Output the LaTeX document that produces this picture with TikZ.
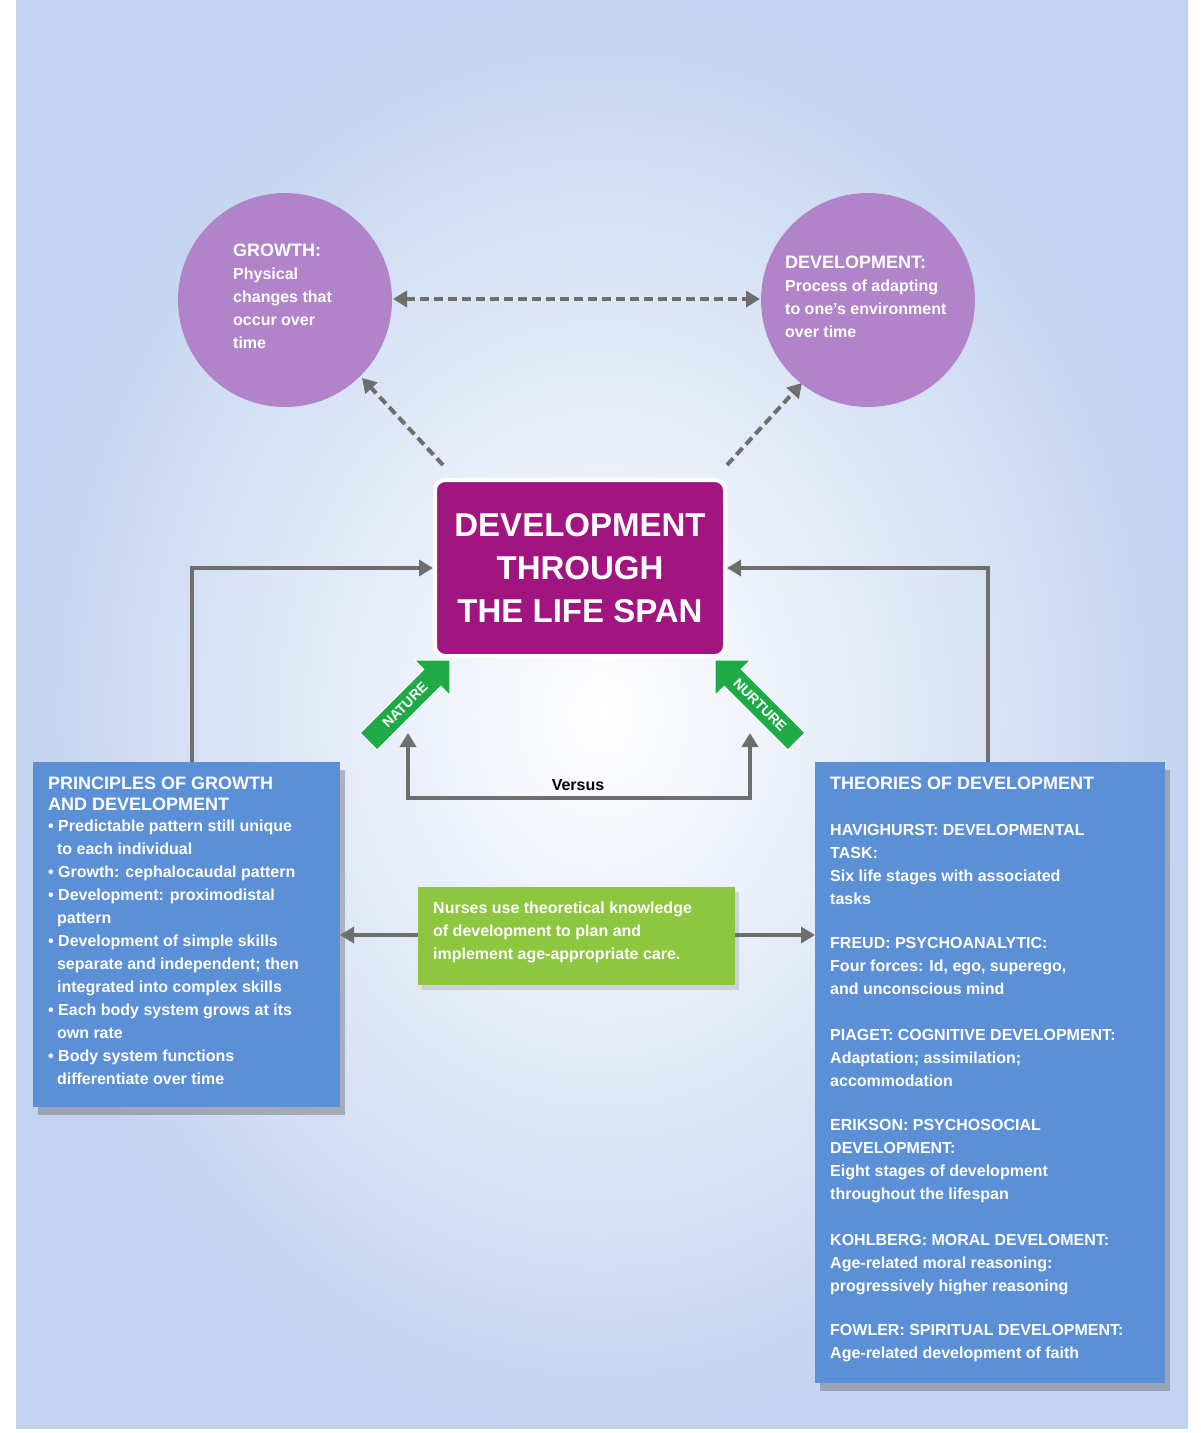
\documentclass[tikz,border=0pt]{standalone}
\usepackage{fontspec}
\setmainfont{Liberation Sans}
\usetikzlibrary{arrows.meta,shapes.arrows,shadows}
\definecolor{bgb}{RGB}{196,212,240}
\definecolor{circ}{RGB}{177,131,201}
\definecolor{mag}{RGB}{160,21,128}
\definecolor{blu}{RGB}{91,143,214}
\definecolor{grn}{RGB}{141,198,63}
\definecolor{darkg}{RGB}{30,170,70}
\definecolor{gry}{RGB}{110,110,110}
\newcommand{\hd}{\fontsize{18}{23}\selectfont}
\begin{document}
\begin{tikzpicture}[x=1pt,y=-1pt,
 txt/.style={text=white,align=left,anchor=north west,inner sep=0pt,font=\bfseries\fontsize{16}{23}\selectfont},
 conn/.style={draw=gry,line width=4pt,-{Triangle[length=14pt,width=16pt]}},
 dconn/.style={conn,dash pattern=on 9pt off 5pt},
 box/.style={fill=blu,draw=none,drop shadow={shadow xshift=5pt,shadow yshift=-8pt,opacity=0.35,fill=black!70}},
 garrow/.style={single arrow,fill=darkg,draw=white,line width=1pt,minimum height=115pt,minimum width=50pt,single arrow head extend=8pt,inner sep=2pt,text=white,font=\bfseries\fontsize{14}{14}\selectfont}]
\useasboundingbox (0,0) rectangle (1200,1433);
\fill[white] (0,0) rectangle (1200,1433);
\shade[inner color=white,outer color=bgb] (16,0) rectangle (1188,1428);
% circles
\fill[circ] (285,300) circle (107);
\fill[circ] (868,300) circle (107);
\node[txt] (g) at (233,244) {\hd GROWTH:\\Physical\\changes that\\occur over\\time};
\node[txt] (d) at (785,256) {\hd DEVELOPMENT:\\Process of adapting\\to one's environment\\over time};
\coordinate (gr) at (393,299); \coordinate (dl) at (760,299);
\draw[dconn,{Triangle[length=14pt,width=16pt]}-{Triangle[length=14pt,width=16pt]}] (gr) -- (dl);
\coordinate (c1) at (443,465); \coordinate (g1) at (362,378);
\coordinate (c2) at (727,465); \coordinate (d1) at (802,383);
\draw[dconn] (c1) -- (g1);
\draw[dconn] (c2) -- (d1);
% center
\node[fill=mag,draw=white,line width=4pt,rounded corners=10pt,minimum width=290pt,minimum height=176pt,text=white,align=center,font=\bfseries\fontsize{33}{43}\selectfont] (c) at (580,568) {DEVELOPMENT\\THROUGH\\THE LIFE SPAN};
% blue boxes
\fill[box] (33,762) rectangle (340,1107);
\fill[box] (815,762) rectangle (1165,1383);
\node[txt] (l) at (48,777) {\hd PRINCIPLES OF GROWTH\\[-2pt]\hd AND DEVELOPMENT\\[-2pt]
• Predictable pattern still unique\\\ \ to each individual\\• Growth: cephalocaudal pattern\\• Development: proximodistal\\\ \ pattern\\• Development of simple skills\\\ \ separate and independent; then\\\ \ integrated into complex skills\\• Each body system grows at its\\\ \ own rate\\• Body system functions\\\ \ differentiate over time};
\node[txt] (r) at (830,777) {\hd THEORIES OF DEVELOPMENT\\[23pt]
HAVIGHURST: DEVELOPMENTAL\\TASK:\\Six life stages with associated\\tasks\\[21pt]
FREUD: PSYCHOANALYTIC:\\Four forces: Id, ego, superego,\\and unconscious mind\\[23pt]
PIAGET: COGNITIVE DEVELOPMENT:\\Adaptation; assimilation;\\accommodation\\[21pt]
ERIKSON: PSYCHOSOCIAL\\DEVELOPMENT:\\Eight stages of development\\throughout the lifespan\\[23pt]
KOHLBERG: MORAL DEVELOMENT:\\Age-related moral reasoning:\\progressively higher reasoning\\[21pt]
FOWLER: SPIRITUAL DEVELOPMENT:\\Age-related development of faith};
% green box
\fill[grn,drop shadow={shadow xshift=4pt,shadow yshift=-5pt,opacity=0.25}] (418,887) rectangle (735,985);
\node[txt] (n) at (433,902) {Nurses use theoretical knowledge\\of development to plan and\\implement age-appropriate care.};
\coordinate (nl) at (418,935); \coordinate (nr) at (735,935);
\coordinate (ll) at (340,935); \coordinate (rr) at (815,935);
\draw[conn] (nl) -- (ll);
\draw[conn] (nr) -- (rr);
% side connectors
\coordinate (ls) at (192,762); \coordinate (rs) at (988,762);
\draw[conn] (ls) |- (c.west);
\draw[conn] (rs) |- (c.east);
% versus
\coordinate (v1) at (408,733); \coordinate (v2) at (750,733);
\draw[conn,{Triangle[length=14pt,width=16pt]}-{Triangle[length=14pt,width=16pt]}] (v1) -- (408,798) -- (750,798) -- (v2);
\node[font=\bfseries\fontsize{16}{16}\selectfont] (vs) at (578,785) {Versus};
% green arrows
\node[garrow,rotate=45] (na) at (405,705) {NATURE};
\node[garrow,rotate=135] (nu) at (760,705) {\rotatebox{180}{NURTURE}};
\end{tikzpicture}
\end{document}
